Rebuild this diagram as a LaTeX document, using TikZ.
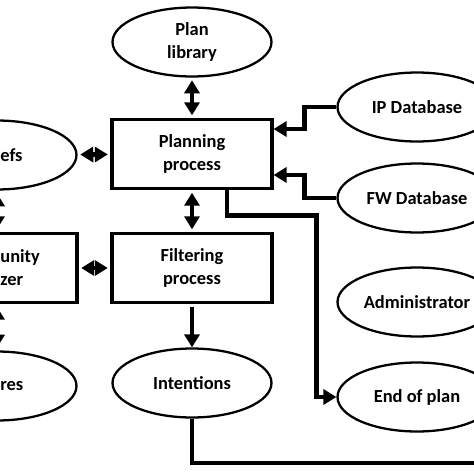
\documentclass[tikz,border=0pt]{standalone}
\usepackage{fontspec}
\setmainfont{Carlito}
\usetikzlibrary{shapes.geometric, arrows.meta, positioning}

\begin{document}
\begin{tikzpicture}[x=0.02cm, y=-0.02cm,
    every node/.style={font=\bfseries\fontsize{10.5}{13}\selectfont, align=center},
    proc/.style={rectangle, draw=black, line width=1.8pt, minimum width=3.2cm, minimum height=1.38cm},
    store/.style={ellipse, draw=black, line width=1.3pt, minimum width=3.18cm, minimum height=1.38cm, inner sep=0pt},
    link/.style={line width=2.8pt, {Triangle[length=0.26cm,width=0.3cm]}-{Triangle[length=0.26cm,width=0.3cm]}, shorten <=1.5pt, shorten >=1.5pt},
    flow/.style={line width=2.8pt, -{Triangle[length=0.26cm,width=0.3cm]}},
    wire/.style={line width=2.8pt},
    cut/.style={anchor=west, inner xsep=0pt, align=left}]
        \useasboundingbox (0,0) rectangle (474,474);
        \clip (0,0) rectangle (474,474);

        % Middle column
        \node[store] at (192,42) (plan) {Plan\\library};
        \node[proc] at (192,154) (planning) {Planning\\process};
        \node[proc] at (192,268) (filter) {Filtering\\process};
        \node[store] at (192,383) (intent) {Intentions};

        % Left column (cut by the frame)
        \node[store] at (-3,155) (beliefs) {};
        \node[proc] at (-3,268) (opport) {};
        \node[store] at (-3,386) (desires) {};
        \node[cut] at (0,155) (beliefstext) {efs};
        \node[cut] at (0,268) (opporttext) {unity\\zer};
        \node[cut] at (0,386) (desirestext) {res};

        % Right column
        \node[store] at (417,107) (ipdb) {IP Database};
        \node[store] at (417,198) (fwdb) {FW Database};
        \node[store] at (417,302) (admin) {Administrator};
        \node[store] at (417,397) (endplan) {End of plan};
        \coordinate (tail) at (500,463);

        % Connectors
        \draw[link] (plan) -- (planning);
        \draw[link] (planning) -- (filter);
        \draw[flow, shorten <=1.5pt] (filter) -- (intent);
        \draw[link] (beliefs) -- (planning);
        \draw[link] (opport) -- (filter);
        \draw[link] (beliefs) -- (opport);
        \draw[link] (opport) -- (desires);
        \draw[flow] (ipdb.west) -- ++(-32,0) |- ([yshift=0.5cm]planning.east);
        \draw[flow] (fwdb.west) -- ++(-32,0) |- ([yshift=-0.42cm]planning.east);
        \draw[flow] ([xshift=0.7cm]planning.south) -- ++(0,25) -| ([xshift=-0.4cm]endplan.west) -- (endplan.west);
        \draw[wire] (intent.south) |- (tail);
\end{tikzpicture}
\end{document}
